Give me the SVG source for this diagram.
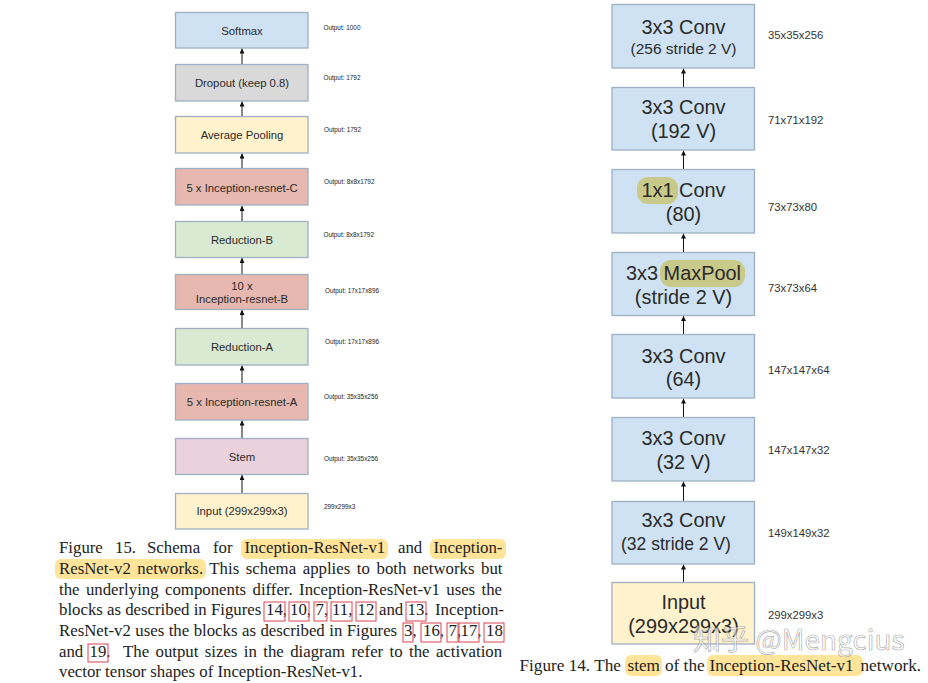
<svg xmlns="http://www.w3.org/2000/svg" width="928" height="683" viewBox="0 0 928 683">
<defs>
<marker id="arrow" markerUnits="userSpaceOnUse" markerWidth="6" markerHeight="6" refX="5" refY="2.5" orient="auto"><path d="M0 0L5 2.5L0 5z" fill="#111"/></marker>
</defs>
<style>
text{font-family:"Liberation Sans",Arial,sans-serif;fill:#2a2a2a}
.b{stroke:#9fb0c4;stroke-width:1.3}
.blue{fill:#cfe2f3}.gray{fill:#d9d9d9}.yel{fill:#fff2cc}.red{fill:#e6b8af}.grn{fill:#d9ead3}.pur{fill:#ead1dc}
.l{font-size:11.3px;text-anchor:middle}
.o{font-size:6.4px;fill:#222}
.r{font-size:19.9px;text-anchor:middle}
.s{font-size:11.3px;fill:#333}
.c{font-family:"Liberation Serif","Times New Roman",serif;font-size:16.8px;fill:#222}
.d{font-size:17.2px}
.h{fill:#ffe49a}.k{fill:#c9c98a}
.f{fill:none;stroke:#d8444c;stroke-width:1}
.w{font-family:"Noto Sans CJK SC","Liberation Sans",sans-serif;font-size:28px;fill:#fff;fill-opacity:.55;stroke:#8a8a8a;stroke-width:.7;stroke-opacity:.7}
</style>
<rect width="928" height="683" fill="#fff"/>
<g id="connectors" stroke="#111" stroke-width="1" fill="none">
<path d="M242 64V48.500" marker-end="url(#arrow)"/><path d="M242 116V101.500" marker-end="url(#arrow)"/><path d="M242 168V153.500" marker-end="url(#arrow)"/><path d="M242 221V206" marker-end="url(#arrow)"/><path d="M242 274V258" marker-end="url(#arrow)"/><path d="M242 328V310" marker-end="url(#arrow)"/><path d="M242 383V365.500" marker-end="url(#arrow)"/><path d="M242 438V420.500" marker-end="url(#arrow)"/><path d="M242 493V475" marker-end="url(#arrow)"/>
<path d="M683.500 87V68.500" marker-end="url(#arrow)"/><path d="M683.500 169V150.500" marker-end="url(#arrow)"/><path d="M683.500 252V233.500" marker-end="url(#arrow)"/><path d="M683.500 334V316" marker-end="url(#arrow)"/><path d="M683.500 417V398.500" marker-end="url(#arrow)"/><path d="M683.500 501V481.500" marker-end="url(#arrow)"/><path d="M683.500 582V564.500" marker-end="url(#arrow)"/>
</g>
<g id="softmax"><rect class="b blue" x="175.500" y="12.500" width="132.500" height="35.500"/><text class="l" x="242" y="35">Softmax</text><text class="o" x="323.500" y="30">Output: 1000</text></g>
<g id="dropout"><rect class="b gray" x="175.500" y="64.500" width="132.500" height="36.500"/><text class="l" x="242" y="87">Dropout (keep 0.8)</text><text class="o" x="323.500" y="80">Output: 1792</text></g>
<g id="avgpool"><rect class="b yel" x="175.500" y="116.500" width="132.500" height="36.500"/><text class="l" x="242" y="139">Average Pooling</text><text class="o" x="324" y="132">Output: 1792</text></g>
<g id="resnet-c"><rect class="b red" x="175.500" y="168.500" width="132.500" height="36.500"/><text class="l" x="242" y="191.500">5 x Inception-resnet-C</text><text class="o" x="324" y="184">Output: 8x8x1792</text></g>
<g id="reduction-b"><rect class="b grn" x="175.500" y="221.500" width="132.500" height="36"/><text class="l" x="242" y="244">Reduction-B</text><text class="o" x="323.500" y="237">Output: 8x8x1792</text></g>
<g id="resnet-b"><rect class="b red" x="175.500" y="274.500" width="132.500" height="35"/><text class="l" x="242" y="290">10 x</text><text class="l" x="242" y="303">Inception-resnet-B</text><text class="o" x="325" y="293">Output: 17x17x896</text></g>
<g id="reduction-a"><rect class="b grn" x="175.500" y="328.500" width="132.500" height="36.500"/><text class="l" x="242" y="351">Reduction-A</text><text class="o" x="325" y="344">Output: 17x17x896</text></g>
<g id="resnet-a"><rect class="b red" x="175.500" y="383.500" width="132.500" height="36.500"/><text class="l" x="242" y="406">5 x Inception-resnet-A</text><text class="o" x="324" y="398.500">Output: 35x35x256</text></g>
<g id="stem"><rect class="b pur" x="175.500" y="438.500" width="132.500" height="36"/><text class="l" x="242" y="460.500">Stem</text><text class="o" x="324" y="461">Output: 35x35x256</text></g>
<g id="input-left"><rect class="b yel" x="175.500" y="493.500" width="132.500" height="35.500"/><text class="l" x="242" y="515">Input (299x299x3)</text><text class="o" x="324" y="509">299x299x3</text></g>

<g id="conv-256"><rect class="b blue" x="612" y="4.500" width="142.500" height="63.500"/><text class="r" x="683.500" y="34">3x3 Conv</text><text class="r" x="683.500" y="53.500" style="font-size:15.500px">(256 stride 2 V)</text><text class="s" x="768" y="38.500">35x35x256</text></g>
<g id="conv-192"><rect class="b blue" x="612" y="87.500" width="142.500" height="62.500"/><text class="r" x="683.500" y="114">3x3 Conv</text><text class="r" x="683.500" y="138">(192 V)</text><text class="s" x="768" y="124">71x71x192</text></g>
<g id="conv-80"><rect class="b blue" x="612" y="169.500" width="142.500" height="63.500"/><rect class="k" x="637" y="177" width="41" height="27" rx="11"/><text class="r" x="683.500" y="197">1x1 Conv</text><text class="r" x="683.500" y="221">(80)</text><text class="s" x="768" y="211">73x73x80</text></g>
<g id="maxpool"><rect class="b blue" x="612" y="252.500" width="142.500" height="63"/><rect class="k" x="660" y="260" width="85" height="27" rx="11"/><text class="r" x="683.500" y="280">3x3 MaxPool</text><text class="r" x="683.500" y="304">(stride 2 V)</text><text class="s" x="768" y="292">73x73x64</text></g>
<g id="conv-64"><rect class="b blue" x="612" y="334.500" width="142.500" height="63.500"/><text class="r" x="683.500" y="363">3x3 Conv</text><text class="r" x="683.500" y="386">(64)</text><text class="s" x="768" y="374">147x147x64</text></g>
<g id="conv-32"><rect class="b blue" x="612" y="417.500" width="142.500" height="63.500"/><text class="r" x="683.500" y="445">3x3 Conv</text><text class="r" x="683.500" y="469">(32 V)</text><text class="s" x="768" y="454">147x147x32</text></g>
<g id="conv-32s"><rect class="b blue" x="612" y="501.500" width="142.500" height="62.500"/><text class="r" x="683.500" y="527">3x3 Conv</text><text class="r" x="676" y="550" style="font-size:17.500px">(32 stride 2 V)</text><text class="s" x="768" y="537">149x149x32</text></g>
<g id="input-right"><rect class="b yel" x="612" y="582.500" width="142.500" height="61.500"/><text class="r" x="683.500" y="609">Input</text><text class="r" x="683.500" y="633">(299x299x3)</text><text class="s" x="768" y="619">299x299x3</text></g>

<g id="caption-15">
<rect class="h" x="241" y="539" width="147" height="20" rx="6"/><rect class="h" x="430" y="539" width="76" height="20" rx="6"/><rect class="h" x="55" y="559" width="151" height="20" rx="6"/>
<text class="c" x="59" y="553">Figure <tspan x="115">15.</tspan> <tspan x="147">Schema</tspan> <tspan x="213">for</tspan> <tspan x="244.500">Inception-ResNet-v1</tspan> <tspan x="398">and</tspan> <tspan x="433.500">Inception-</tspan></text>
<text class="c" x="59" y="574" style="word-spacing:2.400px">ResNet-v2 networks. This schema applies to both networks but</text>
<text class="c" x="59" y="595" style="word-spacing:2.200px">the underlying components differ. Inception-ResNet-v1 uses the</text>
<text class="c" x="59" y="615">blocks as described in Figures <tspan x="266">14,</tspan> <tspan x="290">10,</tspan> <tspan x="315.500">7,</tspan> <tspan x="332">11,</tspan> <tspan x="357.500">12</tspan> <tspan x="379">and</tspan> <tspan x="407.500">13.</tspan> <tspan x="435">Inception-</tspan></text>
<text class="c" x="59" y="636" style="word-spacing:.3px">ResNet-v2 uses the blocks as described in Figures <tspan x="404">3,</tspan> <tspan x="423">16,</tspan> <tspan x="448.500">7,</tspan><tspan x="460.500">17,</tspan> <tspan x="486">18</tspan></text>
<text class="c" x="59" y="657">and <tspan x="89.500">19.</tspan> <tspan style="word-spacing:2.200px" x="123">The output sizes in the diagram refer to the activation</tspan></text>
<text class="c" x="59" y="677">vector tensor shapes of Inception-ResNet-v1.</text>
<g><rect class="f" x="264" y="602" width="21" height="19"/><rect class="f" x="289" y="602" width="20" height="19"/><rect class="f" x="314" y="602" width="13" height="19"/><rect class="f" x="331" y="602" width="21" height="19"/><rect class="f" x="356" y="602" width="20" height="19"/><rect class="f" x="406" y="602" width="20" height="19"/><rect class="f" x="403" y="623" width="10" height="19"/><rect class="f" x="421" y="623" width="20" height="19"/><rect class="f" x="447" y="623" width="11" height="19"/><rect class="f" x="459" y="623" width="20" height="19"/><rect class="f" x="484" y="623" width="20" height="19"/><rect class="f" x="88" y="644" width="20" height="18"/></g>
</g>
<g id="caption-14">
<rect class="h" x="625" y="655" width="37" height="21" rx="6"/><rect class="h" x="707" y="655" width="156" height="21" rx="6"/>
<text class="c d" x="519.500" y="671">Figure 14. The <tspan x="627.500">stem</tspan> <tspan x="665">of the</tspan> <tspan x="709.500">Inception-ResNet-v1</tspan> <tspan x="860.500">network.</tspan></text>
</g>
<text class="w" x="693" y="650">知乎 @Mengcius</text>
</svg>
